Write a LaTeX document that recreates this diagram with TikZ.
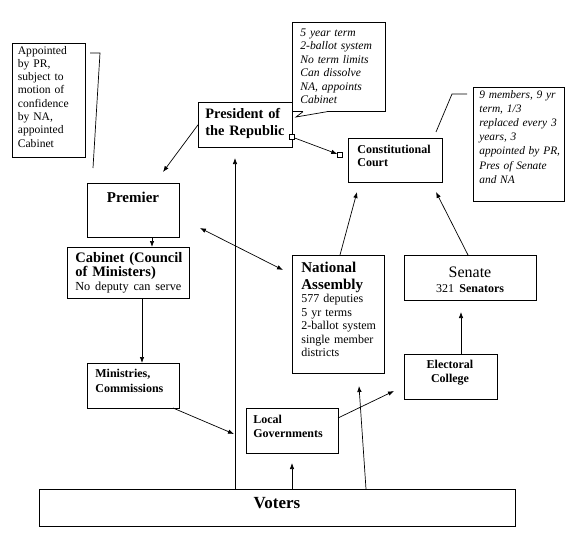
\documentclass[tikz,border=0pt]{standalone}
\usepackage{fontspec}
\setmainfont{Liberation Serif}
\usetikzlibrary{arrows.meta}

\begin{document}
\begin{tikzpicture}[x=1pt,y=-1pt,>={Latex[length=6pt,width=4.5pt]},line width=0.7pt,
	box/.style={draw, anchor=north west, inner sep=0pt},
	txt/.style={anchor=base west, inner sep=0pt, align=left},
	ctxt/.style={anchor=base, inner sep=0pt, align=center},
	handle/.style={draw, fill=white, inner sep=0pt, minimum size=5pt, line width=0.5pt}]
	\useasboundingbox (0,0) rectangle (582,546);
	%Riquadri
	\node [box, minimum width=73pt, minimum height=114pt] (appt) at (12,43) {};
	\node [box, minimum width=93pt, minimum height=89pt] (pcall) at (292,22) {};
	\node [box, minimum width=94pt, minimum height=45pt] (pres) at (198,102) {};
	\node [box, minimum width=94pt, minimum height=44pt] (court) at (348,138) {};
	\node [box, minimum width=91pt, minimum height=114pt] (ccall) at (473,87) {};
	\node [box, minimum width=92pt, minimum height=54pt] (premier) at (87,183) {};
	\node [box, minimum width=122pt, minimum height=51pt] (cabinet) at (67,247) {};
	\node [box, minimum width=92pt, minimum height=45pt] (minis) at (87,363) {};
	\node [box, minimum width=92pt, minimum height=118pt] (na) at (292,255) {};
	\node [box, minimum width=132pt, minimum height=45pt] (senate) at (404,255) {};
	\node [box, minimum width=93pt, minimum height=45pt] (elect) at (404,354) {};
	\node [box, minimum width=92pt, minimum height=45pt] (local) at (246,408) {};
	\node [box, minimum width=476pt, minimum height=37pt] (voters) at (39,489) {};
	%Testi
	\node [txt, text width=70pt, font=\fontsize{11.6}{13.3}\selectfont] (apptT) at (17.5,54)
		{Appointed\\by PR,\\subject to\\motion of\\confidence\\by NA,\\appointed\\Cabinet};
	\node [txt, text width=85pt, font=\itshape\fontsize{11.6}{13.6}\selectfont] (pcallT) at (300,36)
		{5 year term\\2-ballot system\\No term limits\\Can dissolve\\NA, appoints\\Cabinet};
	\node [txt, text width=85pt, font=\bfseries\fontsize{14.4}{17.5}\selectfont] (presT) at (205,118)
		{President of\\the Republic};
	\node [txt, text width=85pt, font=\bfseries\fontsize{12}{13.5}\selectfont] (courtT) at (357,153)
		{Constitutional\\Court};
	\node [txt, text width=100pt, font=\itshape\fontsize{11.4}{14.2}\selectfont] (ccallT) at (479,98)
		{9 members, 9 yr\\term,\ 1/3\\replaced every 3\\years, 3\\appointed by\ PR,\\Pres of Senate\\and NA};
	\node [ctxt, text width=90pt, font=\bfseries\fontsize{15}{17}\selectfont] (premierT) at (133,202) {Premier};
	\node [txt, text width=118pt, font=\bfseries\fontsize{14.5}{14}\selectfont] (cabinetT) at (75,262)
		{Cabinet (Council\\of Ministers)\\\mdseries\fontsize{12.3}{14}\selectfont No deputy can serve};
	\node [txt, text width=85pt, font=\bfseries\fontsize{12}{15}\selectfont] (minisT) at (95,377)
		{Ministries,\\Commissions};
	\node [txt, text width=88pt, font=\fontsize{12}{13.5}\selectfont] (naT) at (301,272)
		{\bfseries\fontsize{15}{13.5}\selectfont National\\[3.5pt]\bfseries\fontsize{15}{13.5}\selectfont Assembly\\
		\mdseries\fontsize{12}{13.5}\selectfont 577 deputies\\5 yr terms\\2-ballot system\\single member\\districts};
	\node [ctxt, text width=128pt, font=\fontsize{16}{15}\selectfont] (senateT) at (470,277)
		{Senate\\\fontsize{12}{15}\selectfont 321 \textbf{Senators}};
	\node [ctxt, text width=90pt, font=\bfseries\fontsize{12}{14}\selectfont] (electT) at (450,368)
		{Electoral\\College};
	\node [txt, text width=88pt, font=\bfseries\fontsize{12}{14.5}\selectfont] (localT) at (253,423)
		{Local\\Governments};
	\node [ctxt, text width=200pt, font=\bfseries\fontsize{17}{18}\selectfont] (votersT) at (277,508) {Voters};
	%Linee dei richiami
	\coordinate (apptA) at (90,53);
	\coordinate (apptB) at (100,53);
	\coordinate (apptC) at (93,168);
	\draw (apptA) -- (apptB) -- (apptC);
	\coordinate (ccA) at (467,94);
	\coordinate (ccB) at (452,94);
	\coordinate (ccC) at (436,132);
	\draw (ccA) -- (ccB) -- (ccC);
	\coordinate (pcL) at ([xshift=11pt]pcall.south west);
	\coordinate (pcR) at ([xshift=35pt]pcall.south west);
	\coordinate (pctip) at (296,117);
	\draw [white, line width=1.2pt] (pcL) -- (pcR);
	\draw (pcL) -- (pctip) -- (pcR);
	%Frecce
	\coordinate (premtip) at (163,172);
	\draw [->] (pres.west) -- (premtip);
	\coordinate (cabtop) at (152,247);
	\draw [->] (cabtop |- premier.south) -- (cabtop);
	\coordinate (mintop) at (142,363);
	\draw [->] (mintop |- cabinet.south) -- (mintop);
	\coordinate (minA) at (173,408);
	\coordinate (mintip) at (234,434);
	\draw [->] (minA) -- (mintip);
	\coordinate (presup) at (235,158);
	\draw [->] (presup |- voters.north) -- (presup);
	\coordinate (loctip) at (292,463);
	\draw [->] (loctip |- voters.north) -- (loctip);
	\coordinate (vna) at (366,489);
	\coordinate (natip) at (359,386);
	\draw [->] (vna) -- (natip);
	\coordinate (locA) at (338,418);
	\coordinate (eltip) at (394,391);
	\draw [->] (locA) -- (eltip);
	\coordinate (sentip) at (461,312);
	\draw [->] (sentip |- elect.north) -- (sentip);
	\coordinate (naA) at (340,255);
	\coordinate (courtL) at (357,192);
	\draw [->] (naA) -- (courtL);
	\coordinate (senA) at (468,255);
	\coordinate (courtR) at (436,192);
	\draw [->] (senA) -- (courtR);
	\coordinate (premE) at (200,228);
	\coordinate (naW) at (283,270);
	\draw [<->] (premE) -- (naW);
	\node [handle] (hA) at (292,137) {};
	\node [handle] (hB) at (340,155) {};
	\draw [->] (hA) -- (hB);
\end{tikzpicture}
\end{document}
